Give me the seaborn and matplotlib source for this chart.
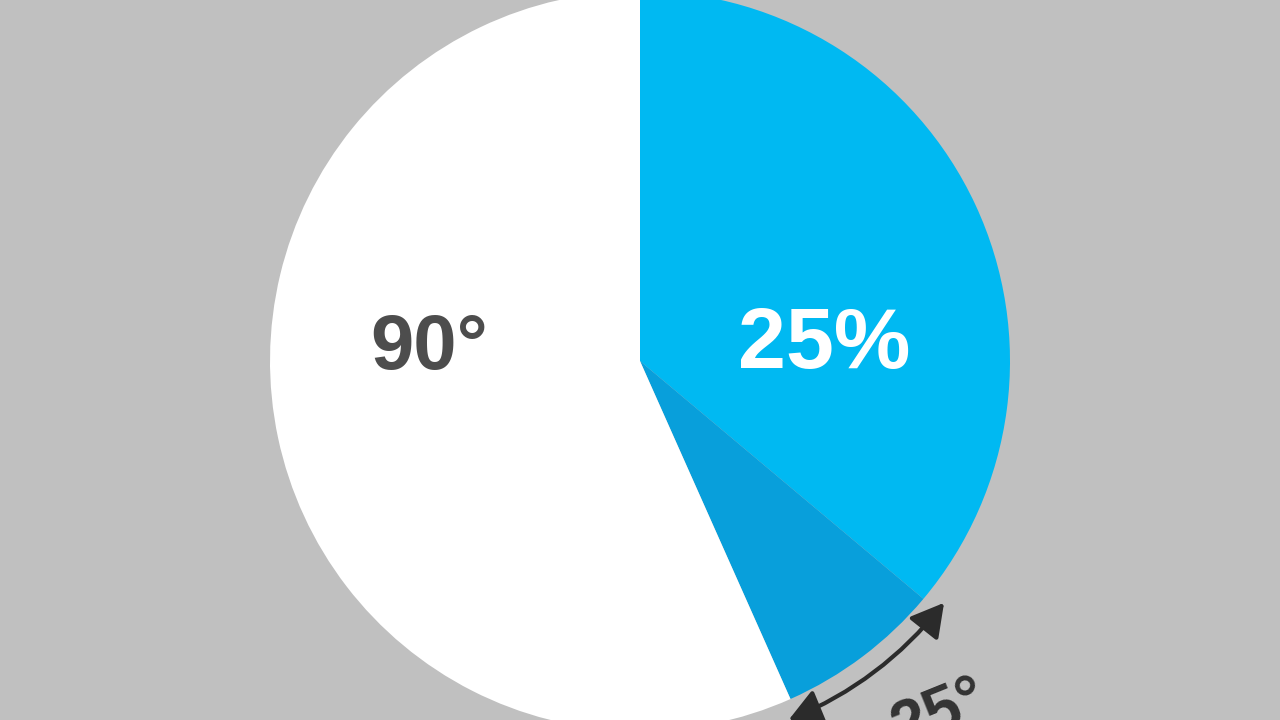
import matplotlib.pyplot as plt
import seaborn as sns
import numpy as np
from matplotlib.patches import FancyArrowPatch

# slice sizes in degrees, read clockwise from 12 o'clock
slice_names = ["blue", "marked", "rest"]
slice_degrees = [130, 26, 204]
slice_colors = ["#00b9f2", "#089fdb", "#ffffff"]

share_label = "25%"
angle_label = "90°"
arc_label = "25°"

sns.set_style("white")
plt.rcParams['font.family'] = ['Liberation Sans', 'DejaVu Sans']

bg = "#c0c0c0"
fig = plt.figure(figsize=(12.8, 7.2), dpi=100)
fig.patch.set_facecolor(bg)
ax = fig.add_axes([0, 0, 1, 1])
ax.set_facecolor(bg)

ax.pie(slice_degrees, colors=slice_colors, startangle=90, counterclock=False,
       radius=1, wedgeprops=dict(linewidth=0))

# pie is larger than the frame and cut off at the bottom
r_px = 370
ax.set_xlim(-640 / r_px, 640 / r_px)
ax.set_ylim(-(720 - 361) / r_px, 361 / r_px)
ax.set_aspect('equal')
ax.axis('off')

ax.text(0.497, 0.04, share_label, color="white", fontsize=62, fontweight="bold",
        ha="center", va="center")
ax.text(-0.57, 0.035, angle_label, color="#4d4d4d", fontsize=56, fontweight="bold",
        ha="center", va="center")

# double arrow around the marked slice
a0 = np.deg2rad(90 - slice_degrees[0] + 1.5)
a1 = np.deg2rad(90 - slice_degrees[0] - slice_degrees[1] - 1.5)
r_arc = 1.05
arrow = FancyArrowPatch((r_arc * np.cos(a0), r_arc * np.sin(a0)),
                        (r_arc * np.cos(a1), r_arc * np.sin(a1)),
                        connectionstyle="arc3,rad=-0.13",
                        arrowstyle="<|-|>,head_length=0.8,head_width=0.45",
                        mutation_scale=25, linewidth=3, color="#2b2b2b",
                        shrinkA=0, shrinkB=0)
ax.add_patch(arrow)

ax.text(0.81, -0.955, arc_label, color="#333333", fontsize=46, fontweight="bold",
        ha="center", va="center", rotation=22)

fig.savefig("out.png", dpi=100, facecolor=bg)
